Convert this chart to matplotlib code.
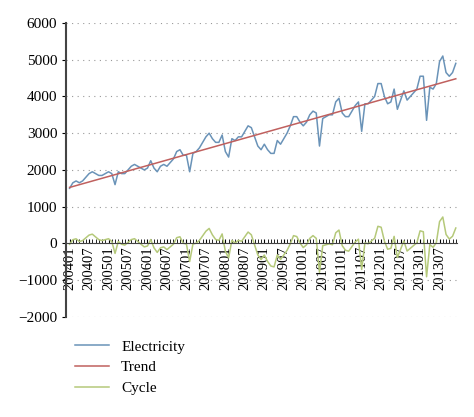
import numpy as np
import matplotlib
matplotlib.use("Agg")
import matplotlib.pyplot as plt

plt.rcParams['font.family'] = ['Liberation Serif', 'DejaVu Serif']

electricity = [
    1500, 1650, 1700, 1650, 1700, 1800, 1900, 1950, 1900, 1850, 1850, 1900,
    1950, 1900, 1600, 1950, 1900, 1900, 2000, 2100, 2150, 2100, 2050, 2000,
    2050, 2250, 2050, 1950, 2100, 2150, 2100, 2200, 2300, 2500, 2550, 2400,
    2400, 1950, 2450, 2500, 2600, 2750, 2900, 3000, 2850, 2750, 2750, 2950,
    2500, 2350, 2850, 2800, 2900, 2900, 3050, 3200, 3150, 2900, 2650, 2550,
    2700, 2550, 2450, 2450, 2800, 2700, 2850, 3000, 3200, 3450, 3450, 3300,
    3200, 3300, 3500, 3600, 3550, 2650, 3400, 3450, 3500, 3500, 3850, 3950,
    3550, 3450, 3450, 3600, 3750, 3850, 3050, 3800, 3800, 3900, 4000, 4350,
    4350, 4000, 3800, 3850, 4200, 3650, 3900, 4150, 3900, 4000, 4100, 4200,
    4550, 4550, 3350, 4250, 4200, 4350, 4950, 5100, 4650, 4550, 4650, 4900,
]
tick_labels = [f"{y}{m:02d}" for y in range(2004, 2014) for m in (1, 7)]

elec = np.array(electricity, dtype=float)
x = np.arange(len(elec))
coef = np.polyfit(x, elec, 1)
trend = np.polyval(coef, x)
cycle = elec - trend

fig = plt.figure(figsize=(4.74, 4.17), dpi=100)
ax = fig.add_axes([0.14, 0.24, 0.825, 0.705])
ax.plot(x, elec, color='#6a93b8', lw=1.1, label='Electricity')
ax.plot(x, trend, color='#c0605e', lw=1.1, label='Trend')
ax.plot(x, cycle, color='#b5c97a', lw=1.1, label='Cycle')

ax.set_ylim(-2000, 6000)
ax.set_xlim(-1, len(elec) - 0.5)
ax.set_yticks(range(-2000, 6001, 1000))
ax.yaxis.grid(True, linestyle=(0, (1, 4)), color='#999999', lw=0.8)
ax.set_axisbelow(True)
ax.spines['top'].set_visible(False)
ax.spines['right'].set_visible(False)
ax.spines['bottom'].set_position(('data', 0))
ax.spines['left'].set_linewidth(1.5)
ax.spines['left'].set_color('#444444')
ax.spines['bottom'].set_color('#444444')
ax.set_xticks(x[::6])
ax.set_xticklabels(tick_labels, rotation=90, fontsize=10.5)
ax.set_xticks(x, minor=True)
ax.tick_params(axis='x', which='both', direction='in', length=3)
ax.tick_params(axis='x', which='major', pad=2)
ax.tick_params(axis='y', labelsize=11, direction='out', length=3)

fig.legend(loc='lower left', bbox_to_anchor=(0.13, 0.02), frameon=False,
           fontsize=11, handlelength=2.2, labelspacing=0.45)
fig.savefig('out.png', dpi=100)
